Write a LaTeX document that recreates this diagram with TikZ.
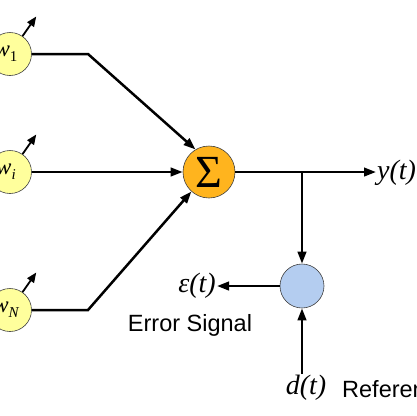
\documentclass[tikz,border=0pt]{standalone}
\usepackage{fontspec}
\setmainfont{Liberation Serif}
\newfontfamily\labelfont{Liberation Sans}
\usetikzlibrary{positioning, arrows.meta, calc}

\definecolor{wyellow}{HTML}{FFFF9C}
\definecolor{sumorange}{HTML}{FFB41E}
\definecolor{errblue}{HTML}{B4CDF0}

\tikzset{
	wire/.style={line width=2.5pt},
	sig/.style={wire, -{Triangle[length=12pt, width=8.5pt]}},
	weight/.style={line width=1.8pt, -{Triangle[length=10pt, width=8pt]}},
	wnode/.style={circle, draw=black!75, line width=0.6pt, fill=wyellow, minimum size=43pt, inner sep=0pt},
	wtext/.style={inner sep=0pt, font=\fontsize{23}{23}\selectfont\itshape},
	sumnode/.style={circle, draw=black!75, line width=0.6pt, fill=sumorange, minimum size=52pt, inner sep=0pt, font=\fontsize{46}{46}\selectfont},
	errnode/.style={circle, draw=black!75, line width=0.6pt, fill=errblue, minimum size=44pt, inner sep=0pt},
	mathtext/.style={inner sep=1pt, font=\fontsize{28}{28}\selectfont\itshape},
	plaintext/.style={inner sep=1pt, font=\fontsize{23.5}{23.5}\selectfont\labelfont}
}

\begin{document}
\begin{tikzpicture}[x=1pt, y=-1pt]
	\useasboundingbox (0,0) rectangle (416,416);
	\clip (0,0) rectangle (416,416);

	% weights
	\node[wnode] (w1) at (10, 54) {};
	\node[wnode] (wi) at (10, 172) {};
	\node[wnode] (wN) at (10, 310) {};
	\node[wtext, xshift=-4pt] at (w1) {w\raisebox{-5pt}{\fontsize{15}{15}\selectfont\upshape 1}};
	\node[wtext, xshift=-4pt] at (wi) {w\raisebox{-5pt}{\fontsize{15}{15}\selectfont i}};
	\node[wtext, xshift=-4pt] at (wN) {w\raisebox{-5pt}{\fontsize{15}{15}\selectfont N}};
	\foreach \w in {w1, wi, wN}
		\draw [weight] (\w.55) -- ++(55:24pt);

	% summation and error nodes
	\node[sumnode] (sum) at (209, 172) {Σ};
	\node[errnode] (err) at (302, 286) {};

	\coordinate (b1) at (88, 54);
	\coordinate (bN) at (88, 310);
	\coordinate (br) at (302, 172);

	\draw [sig] (w1) -- (b1) -- (sum.121);
	\draw [sig] (wi) -- (sum);
	\draw [sig] (wN) -- (bN) -- (sum.228);

	% output and error
	\node[mathtext, anchor=west] (yt) at (376, 173) {y(t)};
	\draw [sig] (sum) -- (sum -| yt.west);
	\draw [sig] (br) -- (err);

	\node[mathtext, anchor=east] (eps) at (217, 286) {ε(t)};
	\draw [sig] (err) -- (eps.east);
	\node[plaintext] (errlab) at (190, 325) {Error Signal};

	\node[mathtext] (dt) at (306, 388) {d(t)};
	\node[plaintext, anchor=west] (reflab) at (341, 389) {Reference};
	\draw [sig] (dt.north -| err) -- (err);
\end{tikzpicture}
\end{document}
